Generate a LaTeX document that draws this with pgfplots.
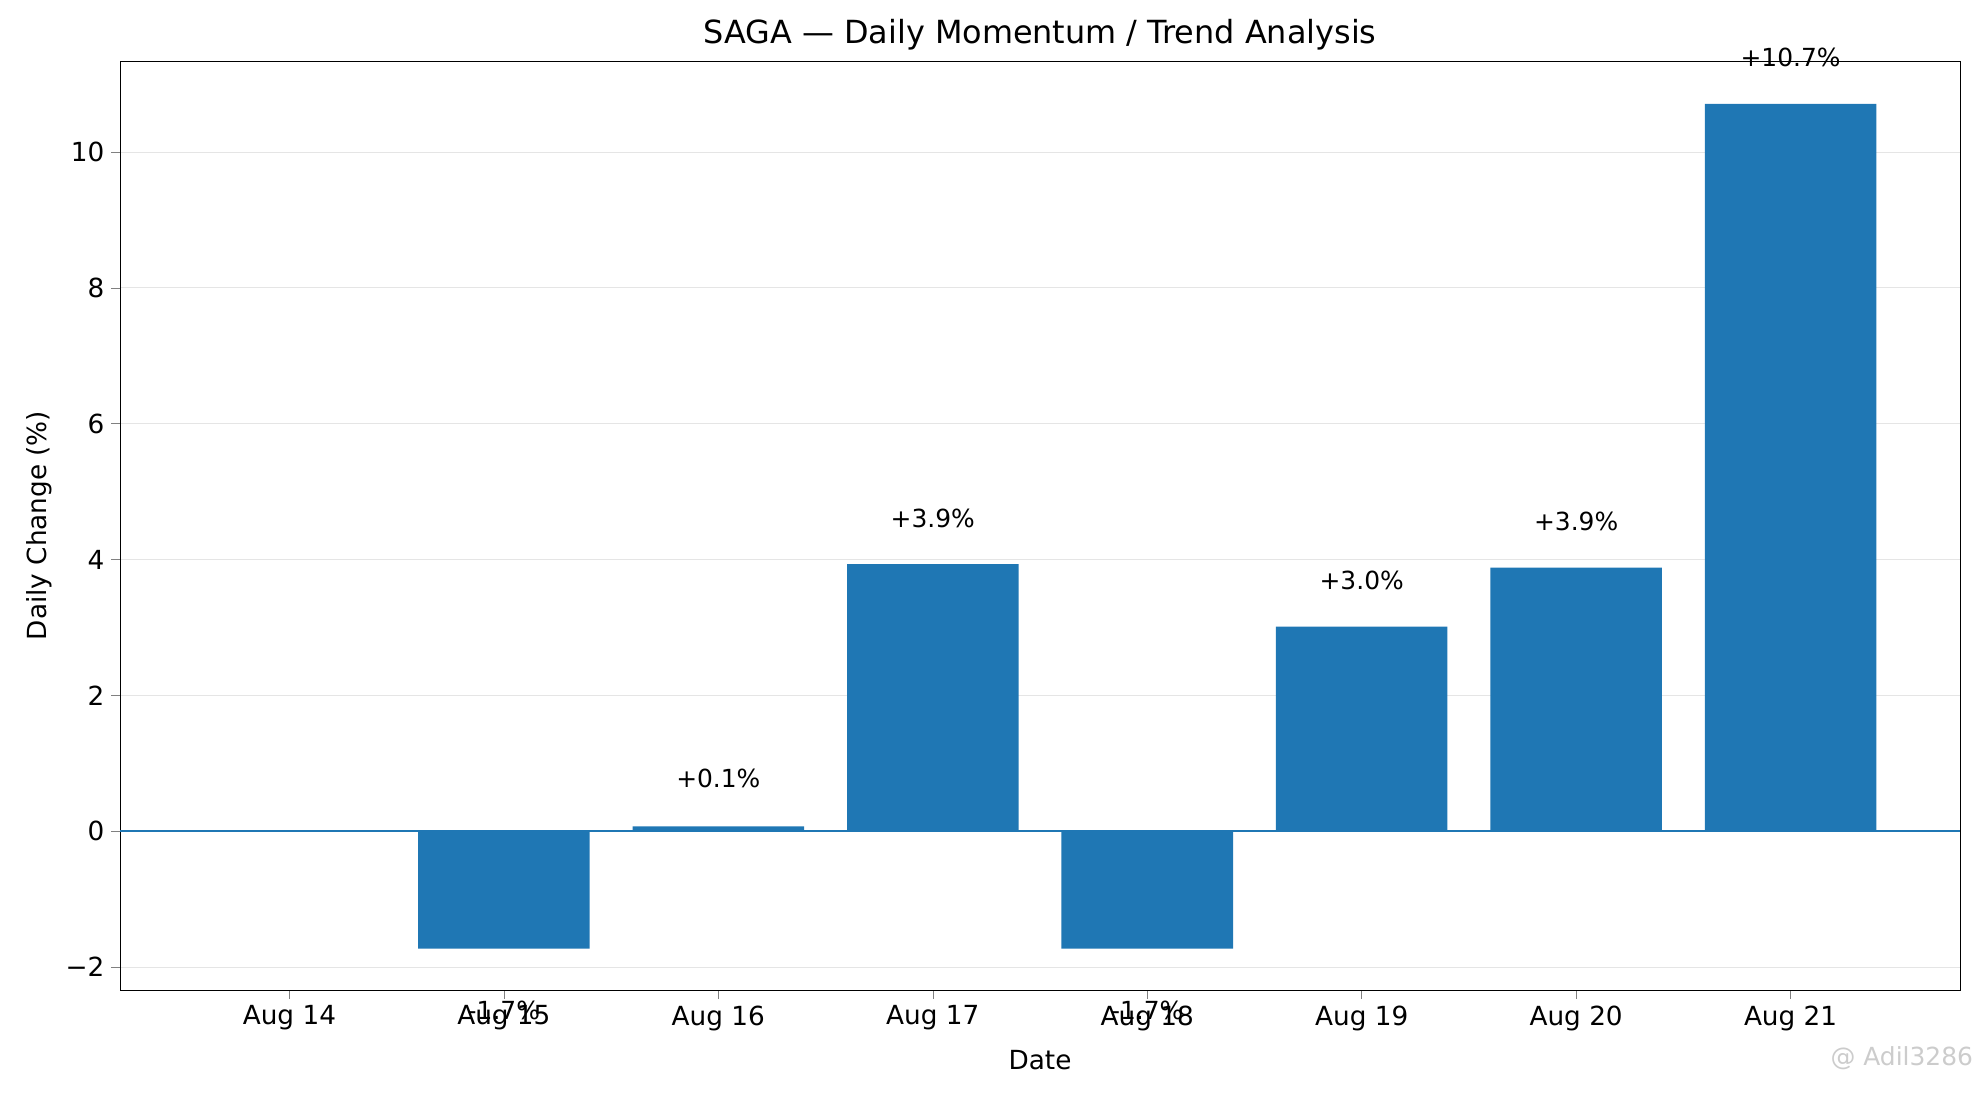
\documentclass[border=0pt]{standalone}
\usepackage{pgfplots}
\pgfplotsset{compat=1.18}
\usepackage{fontspec}
\setmainfont{DejaVu Sans}
\definecolor{bar}{HTML}{1F77B4}
\begin{document}
\begin{tikzpicture}
\path[use as bounding box] (0,0) rectangle (990bp,548.5bp);
\begin{axis}[at={(60bp,53.5bp)},anchor=south west,
  width=920bp,height=464.5bp,scale only axis,
  xmin=-0.79,xmax=7.79,ymin=-2.34,ymax=11.34,
  xtick={0,...,7},xticklabels={Aug 14,Aug 15,Aug 16,Aug 17,Aug 18,Aug 19,Aug 20,Aug 21},
  ytick={-2,0,2,4,6,8,10},yticklabels={−2,0,2,4,6,8,10},
  ticklabel style={font=\fontsize{13.2}{16}\selectfont},
  tick align=outside, tick pos=left,
  ymajorgrids, grid style={gray!20},
  xlabel={Date}, ylabel={Daily Change (\%)},
  xlabel style={yshift=-3bp},
  label style={font=\fontsize{13.2}{16}\selectfont},
  title={SAGA — Daily Momentum / Trend Analysis},
  title style={font=\fontsize{16}{19}\selectfont,yshift=-4bp},
  clip=false,
  every node near coord/.append style={},
]
\addplot[ybar,bar width=0.8,fill=bar,draw=none] coordinates {(0,0)(1,-1.73)(2,0.07)(3,3.93)(4,-1.73)(5,3.01)(6,3.88)(7,10.71)};
\draw[bar,line width=0.8pt] (axis cs:-0.79,0) -- (axis cs:7.79,0);
\begin{scope}[every node/.style={font=\fontsize{12.5}{14}\selectfont}]
\node at (axis cs:2,0.77) {+0.1\%};
\node at (axis cs:3,4.61) {+3.9\%};
\node at (axis cs:5,3.69) {+3.0\%};
\node at (axis cs:6,4.56) {+3.9\%};
\node at (axis cs:7,11.39) {+10.7\%};
\node at (axis cs:1,-2.64) {-1.7\%};
\node at (axis cs:4,-2.64) {-1.7\%};
\end{scope}
\end{axis}
\node[anchor=south east,text=gray!40,font=\fontsize{12.5}{14}\selectfont] at (990bp,10bp) {@ Adil3286};
\end{tikzpicture}
\end{document}
